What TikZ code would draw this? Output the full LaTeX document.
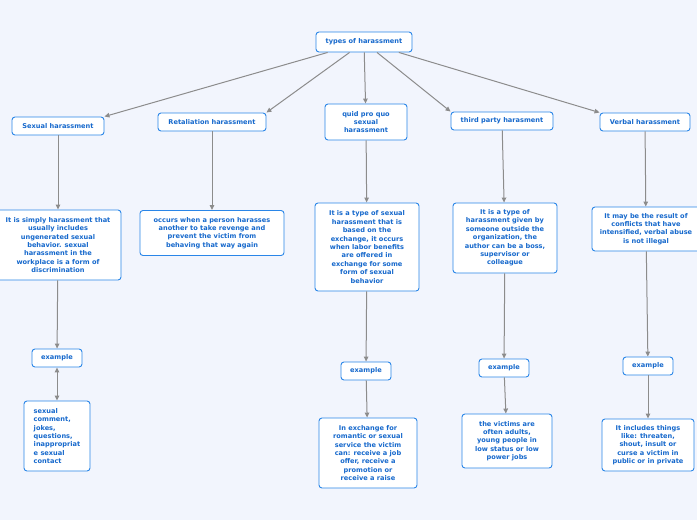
\documentclass[tikz,border=0pt]{standalone}
\usepackage{fontspec}
\setmainfont{DejaVu Sans}
\usetikzlibrary{arrows.meta}
\definecolor{bg}{HTML}{F2F5FD}
\definecolor{bd}{HTML}{2A86E8}
\definecolor{tx}{HTML}{1568CC}
\definecolor{ln}{HTML}{8C8C8C}
\tikzset{
 box/.style={draw=bd,line width=0.9pt,fill=white,rounded corners=3pt,text=tx,font=\bfseries\fontsize{6.6}{8.4}\selectfont,align=center,inner sep=2pt},
 conn/.style={draw=ln,line width=1pt,-{Triangle[length=5pt,width=4.5pt]}},
}
\begin{document}
\begin{tikzpicture}[x=1pt,y=-1pt]
\fill[bg] (0,0) rectangle (697,520);
\useasboundingbox (0,0) rectangle (697,520);
\node[box,minimum width=96pt,minimum height=20pt] (top) at (364,42) {types of harassment};
\node[box,minimum width=92pt,minimum height=18pt] (s) at (58,126) {Sexual harassment};
\node[box,minimum width=108pt,minimum height=18pt] (r) at (212,122) {Retaliation harassment};
\node[box,minimum width=82pt,minimum height=36pt] (q) at (366,122) {quid pro quo\\sexual\\harassment};
\node[box,minimum width=102pt,minimum height=18pt] (t) at (502,121) {third party harasment};
\node[box,minimum width=90pt,minimum height=18pt] (v) at (645,122) {Verbal harassment};
\node[box,minimum width=126pt,minimum height=70pt] (d1) at (58,245) {It is simply harassment that\\usually includes\\ungenerated sexual\\behavior. sexual\\harassment in the\\workplace is a form of\\discrimination};
\node[box,minimum width=144pt,minimum height=45pt] (d2) at (212,233) {occurs when a person harasses\\another to take revenge and\\prevent the victim from\\behaving that way again};
\node[box,minimum width=104pt,minimum height=88pt] (d3) at (367,247) {It is a type of sexual\\harassment that is\\based on the\\exchange, it occurs\\when labor benefits\\are offered in\\exchange for some\\form of sexual\\behavior};
\node[box,minimum width=104pt,minimum height=70pt] (d4) at (505,238) {It is a type of\\harassment given by\\someone outside the\\organization, the\\author can be a boss,\\supervisor or\\colleague};
\node[box,minimum width=108pt,minimum height=44pt] (d5) at (646,229) {It may be the result of\\conflicts that have\\intensified, verbal abuse\\is not illegal};
\node[box,minimum width=50pt,minimum height=18pt] (e1) at (57,358) {example};
\node[box,minimum width=50pt,minimum height=18pt] (e3) at (366,371) {example};
\node[box,minimum width=50pt,minimum height=18pt] (e4) at (504,368) {example};
\node[box,minimum width=50pt,minimum height=18pt] (e5) at (648,366) {example};
\node[box,minimum width=66pt,minimum height=70pt,align=left] (l1) at (57,436) {sexual\\comment,\\jokes,\\questions,\\inappropriat\\e sexual\\contact};
\node[box,minimum width=98pt,minimum height=70pt] (l3) at (368,453) {In exchange for\\romantic or sexual\\service the victim\\can: receive a job\\offer, receive a\\promotion or\\receive a raise};
\node[box,minimum width=90pt,minimum height=54pt] (l4) at (507,441) {the victims are\\often adults,\\young people in\\low status or low\\power jobs};
\node[box,minimum width=92pt,minimum height=52pt] (l5) at (648,445) {It includes things\\like: threaten,\\shout, insult or\\curse a victim in\\public or in private};
\draw[conn] (top) -- (s.north east);
\draw[conn] (top) -- (r.north east);
\draw[conn] (top) -- (q);
\draw[conn] (top) -- (t.north west);
\draw[conn] (top) -- (v.north west);
\foreach \a/\b in {s/d1,r/d2,q/d3,t/d4,v/d5,d1/e1,d3/e3,d4/e4,d5/e5,e3/l3,e4/l4,e5/l5}
  \draw[conn] (\a) -- (\b);
\draw[conn,{Triangle[length=5pt,width=4.5pt]}-{Triangle[length=5pt,width=4.5pt]}] (e1) -- (l1);
\end{tikzpicture}
\end{document}
